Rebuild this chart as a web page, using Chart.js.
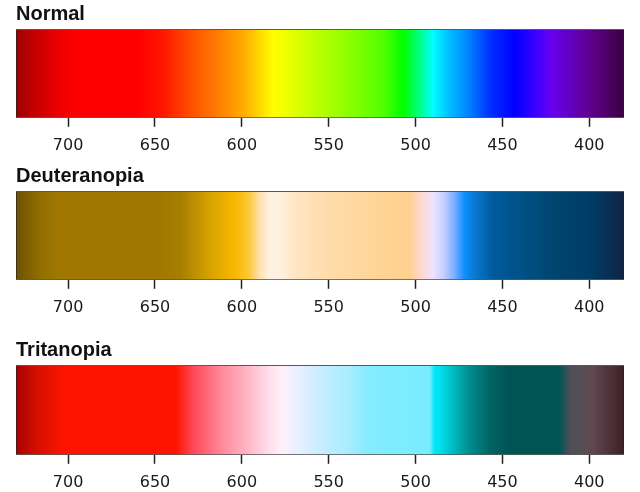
<!DOCTYPE html>
<html>
<head>
<meta charset="utf-8">
<script src="https://cdn.jsdelivr.net/npm/chart.js@4"></script>
<style>
  html, body { margin: 0; padding: 0; background: #fff; }
  body { width: 640px; height: 492px; position: relative; overflow: hidden; }
  .panel { position: absolute; left: 0; width: 640px; }
</style>
</head>
<body>
<div class="panel" style="top:0px;height:164px"><canvas id="normalChart"></canvas></div>
<div class="panel" style="top:162px;height:164px"><canvas id="deutChart"></canvas></div>
<div class="panel" style="top:336px;height:165px"><canvas id="tritChart"></canvas></div>
<script>
// wavelength axis (nm), shown reversed
const wlMin = 380;
const wlMax = 730;
const tickValues = [700, 650, 600, 550, 500, 450, 400];

// colour at these wavelengths
const normalStops = [730, 722, 710, 700, 690, 660, 645, 635, 626, 612, 598, 582, 575, 561, 540, 518, 507, 497, 490, 481, 469, 457, 443, 430, 422, 400, 380];
const normalColors = ['#9a0000', '#bc0000', '#e00000', '#f60000', '#ff0000', '#ff0000', '#ff1800', '#ff3c00', '#ff5a00', '#ff8200', '#ffb000', '#ffff00', '#f0ff00', '#c8ff00', '#90ff00', '#50ff00', '#00ff00', '#00ff90', '#00ffff', '#00c0ff', '#0080ff', '#0030ff', '#0000ff', '#4000ff', '#6800f0', '#600090', '#3a0040'];

const deutStops = [730, 715, 705, 650, 635, 618, 604, 596, 590, 584, 578, 570, 550, 520, 504, 497, 490, 484, 478, 472, 466, 455, 434, 420, 400, 380];
const deutColors = ['#6e5200', '#927000', '#a07800', '#a07800', '#a87e00', '#d8a400', '#f8b800', '#fcc838', '#ffe0a8', '#fff2e4', '#fff0e0', '#ffe6c4', '#ffdcaa', '#ffd496', '#ffd08e', '#ffd8cc', '#eee4ff', '#c8d0ff', '#80b0ff', '#1090ff', '#0a78d0', '#005a9a', '#004e80', '#00466f', '#003c68', '#102444'];

const tritStops = [730, 718, 702, 638, 628, 612, 596, 584, 577, 568, 559, 538, 527, 492, 489, 486, 481, 469, 457, 446, 417, 413, 410, 398, 380];
const tritColors = ['#a80000', '#d41000', '#ff1400', '#ff1400', '#ff4858', '#ff8898', '#ffb8c8', '#ffe0ec', '#fff0fa', '#e8f0ff', '#d0eeff', '#a8ecff', '#84ecff', '#7aecff', '#00e8f8', '#00e0ec', '#00c8d0', '#008c90', '#006464', '#005454', '#005454', '#3a5058', '#505058', '#604850', '#3c2024'];

function spectrumFill(stops, colors) {
    return function(context) {
        const chart = context.chart;
        const x = chart.scales.x;
        if (!chart.chartArea || !x) {
            return colors[0];
        }
        const g = chart.ctx.createLinearGradient(x.left, 0, x.right, 0);
        const w = x.right - x.left;
        stops.forEach((s, i) => {
            let t = (x.getPixelForValue(s) - x.left) / w;
            t = Math.min(1, Math.max(0, t));
            g.addColorStop(t, colors[i]);
        });
        return g;
    };
}

function makeSpectrum(id, title, stops, colors) {
    new Chart(document.getElementById(id), {
        type: 'bar',
        data: {
            labels: [''],
            datasets: [{
                data: [[wlMin, wlMax]],
                backgroundColor: spectrumFill(stops, colors),
                borderColor: '#222',
                borderWidth: 1,
                borderSkipped: false,
                barPercentage: 1,
                categoryPercentage: 1
            }]
        },
        options: {
            indexAxis: 'y',
            responsive: true,
            maintainAspectRatio: false,
            animation: false,
            layout: { padding: { left: 16, right: 16, top: 0, bottom: 0 } },
            plugins: {
                legend: { display: false },
                tooltip: { enabled: false },
                title: {
                    display: true,
                    text: title,
                    align: 'start',
                    color: '#111',
                    font: { family: 'Liberation Sans', size: 20, weight: 'bold' },
                    padding: { top: 2.5, bottom: 2.8 }
                }
            },
            scales: {
                x: {
                    type: 'linear',
                    reverse: true,
                    min: wlMin,
                    max: wlMax,
                    afterBuildTicks: function(axis) {
                        axis.ticks = tickValues.map(v => ({ value: v }));
                    },
                    ticks: {
                        color: '#1a1a1a',
                        font: { family: 'DejaVu Sans', size: 16 },
                        padding: 9,
                        maxRotation: 0,
                        autoSkip: false
                    },
                    grid: {
                        drawOnChartArea: false,
                        tickLength: 9,
                        tickWidth: 1.5,
                        tickColor: '#222'
                    },
                    border: { display: false }
                },
                y: { display: false }
            }
        }
    });
}

makeSpectrum('normalChart', 'Normal', normalStops, normalColors);
makeSpectrum('deutChart', 'Deuteranopia', deutStops, deutColors);
makeSpectrum('tritChart', 'Tritanopia', tritStops, tritColors);
</script>
</body>
</html>
